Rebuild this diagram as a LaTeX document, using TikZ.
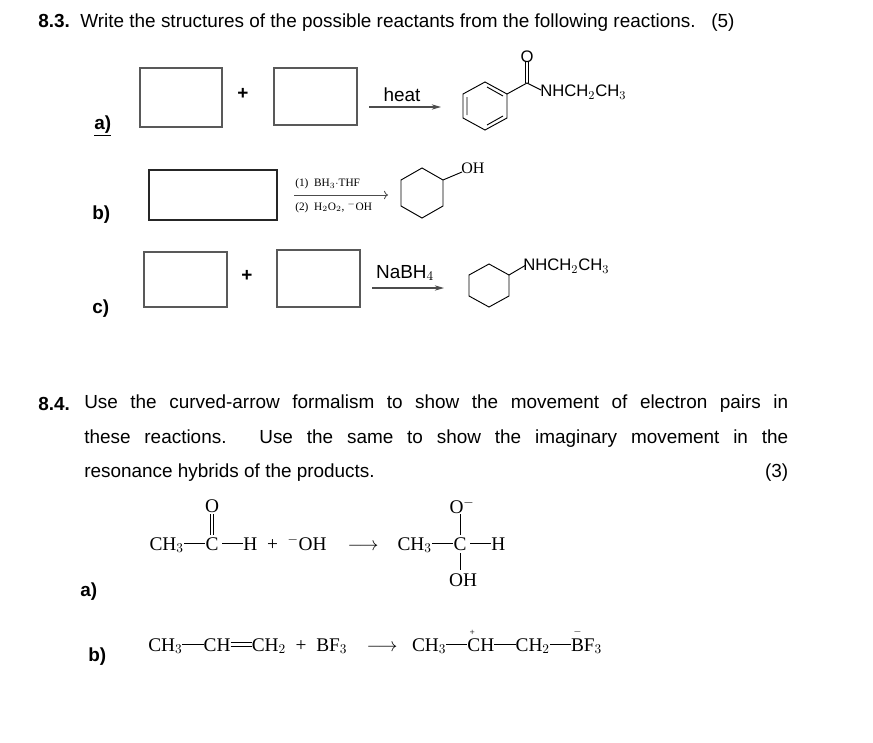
\documentclass[tikz,border=0pt]{standalone}
\usepackage{fontspec}
\setmainfont{Liberation Sans}
\newfontfamily\ser{Liberation Serif}
\usetikzlibrary{arrows.meta}
\newcommand{\sbnd}{\rule[0.32em]{1.1em}{0.5pt}}
\newcommand{\dbnd}{\rlap{\rule[0.22em]{1.1em}{0.5pt}}\rule[0.45em]{1.1em}{0.5pt}}
\begin{document}
\begin{tikzpicture}[x=0.75pt,y=-0.75pt,
  txt/.style={inner sep=0pt,font=\fontsize{14.2}{17}\selectfont},
  lab/.style={inner sep=0pt,font=\bfseries\fontsize{14.2}{17}\selectfont},
  chem/.style={inner sep=0pt,font=\ser\fontsize{14.5}{17}\selectfont},
  box/.style={draw=gray!70!black,line width=0.8pt},
  arr/.style={draw=gray!60!black,line width=0.8pt,-{Stealth[length=7pt,width=4pt]}},
  ring/.style={line width=0.7pt}]
\useasboundingbox (0,0) rectangle (873,742);
\node[txt,anchor=base west] (t1) at (38,28) {\textbf{8.3.}\ \ Write the structures of the possible reactants from the following reactions.\ \ \ (5)};
% a
\node[lab,anchor=base west] (la) at (94,129) {\underline{a)}};
\draw[box] (140,68) rectangle (222,127);
\node[lab] (p1) at (243,94) {+};
\draw[box] (274,68) rectangle (357,125);
\node[txt,anchor=base] (heat) at (402,101) {heat};
\coordinate (a1) at (369,107); \coordinate (a2) at (441,107);
\draw[arr] (a1) -- (a2);
\draw[ring] (485,82) -- (507,94) -- (507,118) -- (485,130) -- (463,118) -- (463,94) -- cycle;
\draw[ring] (487,87) -- (503,96) (503,116) -- (487,125) (467,115) -- (467,97);
\draw[ring] (507,94) -- (527,83) -- (541,90);
\draw[ring] (525.5,83) -- (525.5,62) (528.5,83) -- (528.5,62);
\node[txt,font=\fontsize{12.5}{14}\selectfont] (o1) at (527,57) {O};
\node[txt,anchor=west,font=\fontsize{12.5}{14}\selectfont] (n1) at (540,92) {NHCH$_2$CH$_3$};
% b
\node[lab,anchor=base west] (lb) at (92,219) {b)};
\draw[box,line width=1.4pt,draw=black!85] (149,170) rectangle (277,220);
\node[inner sep=0pt,font=\ser\fontsize{8.5}{10}\selectfont,anchor=west] (r1) at (295,184) {(1)\ \ BH$_3\cdot$THF};
\node[inner sep=0pt,font=\ser\fontsize{8.5}{10}\selectfont,anchor=west] (r2) at (295,207) {(2)\ \ H$_2$O$_2$,\ $^{-}$OH};
\coordinate (b1) at (294,195); \coordinate (b2) at (388,195);
\draw[gray!60!black,line width=0.6pt,-{To[length=3pt]}] (b1) -- (b2);
\draw[ring] (422,168) -- (443,180) -- (443,206) -- (422,218) -- (401,206) -- (401,180) -- cycle;
\draw[ring] (443,180) -- (462,172);
\node[inner sep=0pt,font=\ser\fontsize{12}{14}\selectfont,anchor=west] (oh1) at (461,168) {OH};
% c
\node[lab,anchor=base west] (lc) at (92,313) {c)};
\draw[box] (144,252) rectangle (227,307);
\node[lab] (p2) at (247,276) {+};
\draw[box] (277,250) rectangle (360,307);
\node[txt,anchor=base] (nab) at (405,278) {NaBH$_4$};
\coordinate (c1) at (372,288); \coordinate (c2) at (444,288);
\draw[arr] (c1) -- (c2);
\draw[ring] (489,264) -- (509,275) -- (509,296) -- (489,307) -- (469,296) -- (469,275) -- cycle;
\draw[ring] (509,275) -- (526,265);
\node[txt,anchor=west,font=\fontsize{12.5}{14}\selectfont] (n2) at (523,266) {NHCH$_2$CH$_3$};
% 8.4
\node[txt,anchor=base west] (h84) at (38,410) {\textbf{8.4.}};
\node[txt,anchor=north west,text width=528pt,align=justify,font=\fontsize{14.2}{25.8}\selectfont] (par) at (84,395) {Use the curved-arrow formalism to show the movement of electron pairs in\linebreak these reactions. Use the same to show the imaginary movement in the\linebreak resonance hybrids of the products.\hfill(3)};
% chem a
\node[lab,anchor=base west] (la2) at (80,596) {a)};
\node[chem,anchor=base] (C1) at (212,550) {C};
\node[chem,anchor=base east] (l1) at (C1.base west) {CH$_3$\sbnd};
\node[chem,anchor=base west] (r1a) at (C1.base east) {\,\sbnd H\ \ +\ \ $^{-}$OH};
\node[chem,anchor=base] (ar) at (363,550) {$\longrightarrow$};
\node[chem,anchor=base] (C2) at (460,550) {C};
\node[chem,anchor=base east] (l2) at (C2.base west) {CH$_3$\sbnd};
\node[chem,anchor=base west] (r2a) at (C2.base east) {\,\sbnd H};
\node[chem] (oa) at (212,506) {O};
\draw[line width=0.5pt] (210.5,514) -- (210.5,535) (213.5,514) -- (213.5,535);
\node[chem] (ob) at (462,506) {O$^{-}$};
\draw[line width=0.5pt] (460,514) -- (460,535) (460,553) -- (460,570);
\node[chem] (ohb) at (463,580) {OH};
% chem b
\node[lab,anchor=base west] (lb2) at (88,661) {b)};
\node[chem,anchor=base west] (cb) at (148,651) {CH$_3$\sbnd CH\dbnd CH$_2$\ \ +\ \ BF$_3$\ \ \ \ $\longrightarrow$\ \ \ CH$_3$\sbnd C\rlap{\raisebox{0.8em}{\kern-0.55em\scriptsize+}}H\sbnd CH$_2$\sbnd B\rlap{\raisebox{0.85em}{\kern-0.55em\scriptsize$-$}}F$_3$};
\end{tikzpicture}
\end{document}
